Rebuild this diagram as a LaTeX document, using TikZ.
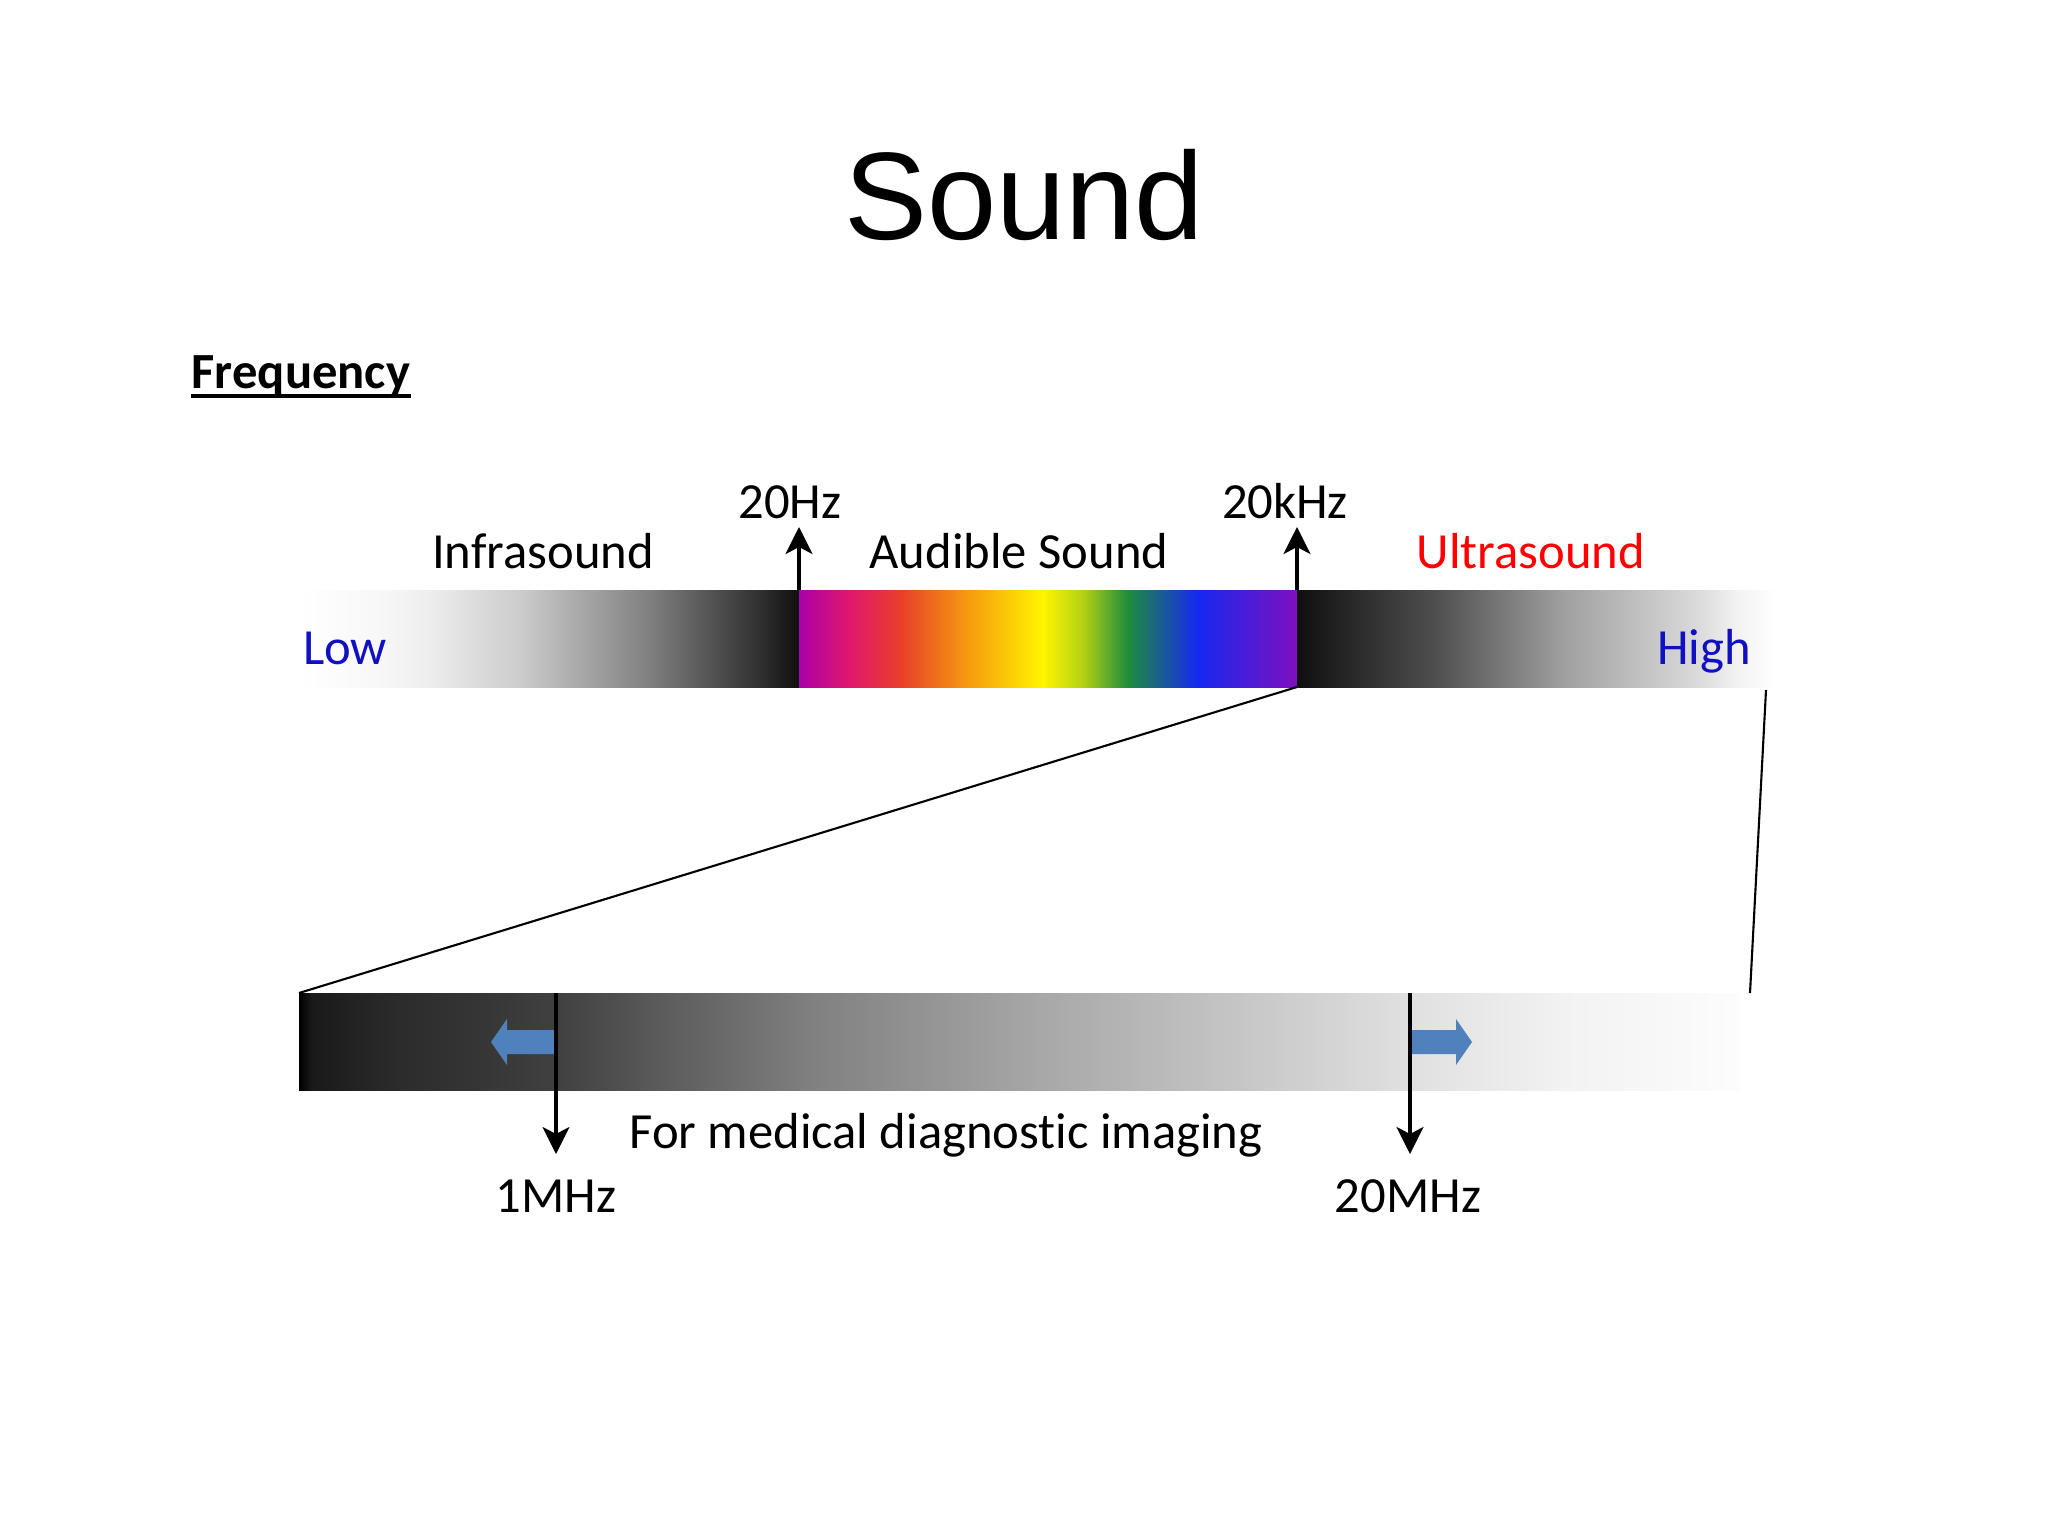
\documentclass[tikz,border=0pt]{standalone}
\usepackage{fontspec}
\setmainfont[Ligatures=NoCommon]{Carlito}
\newfontfamily\titlefont{Liberation Sans}
\usetikzlibrary{arrows.meta}
\definecolor{lowhigh}{RGB}{16,16,192}
\definecolor{ultrared}{RGB}{255,0,0}
\definecolor{markblue}{RGB}{79,129,189}
\pgfdeclarehorizontalshading{spectrum}{100bp}{rgb(0bp)=(0.66,0,0.66); rgb(25bp)=(0.66,0,0.66);
 rgb(30bp)=(0.88,0.09,0.43); rgb(35.25bp)=(0.91,0.25,0.16); rgb(41.8bp)=(0.96,0.60,0.06);
 rgb(49.5bp)=(1,0.96,0); rgb(53.5bp)=(0.70,0.82,0.08); rgb(58bp)=(0.12,0.55,0.24);
 rgb(65bp)=(0.08,0.16,0.94); rgb(75bp)=(0.50,0.06,0.75); rgb(100bp)=(0.50,0.06,0.75)}
\pgfdeclarehorizontalshading{infragray}{100bp}{gray(0bp)=(1); gray(25bp)=(1);
 gray(33bp)=(0.97); gray(38bp)=(0.93); gray(47bp)=(0.80); gray(60bp)=(0.50); gray(71bp)=(0.19);
 gray(75bp)=(0.06); gray(100bp)=(0.06)}
\pgfdeclarehorizontalshading{ultragray}{100bp}{gray(0bp)=(0.06); gray(25bp)=(0.06);
 gray(39.5bp)=(0.31); gray(53bp)=(0.63); gray(67bp)=(0.86); gray(71bp)=(0.95);
 gray(75bp)=(1); gray(100bp)=(1)}
\pgfdeclarehorizontalshading{zoomgray}{100bp}{gray(0bp)=(0); gray(25bp)=(0);
 gray(25.45bp)=(0.10); gray(28.2bp)=(0.165); gray(33.9bp)=(0.25); gray(37.3bp)=(0.35);
 gray(42.7bp)=(0.50); gray(50.9bp)=(0.66); gray(59.9bp)=(0.815); gray(63.6bp)=(0.88);
 gray(69bp)=(0.95); gray(75bp)=(0.99); gray(100bp)=(0.99)}
\tikzset{
 bandtext/.style={font=\fontsize{14.4pt}{17pt}\selectfont, inner sep=0pt, anchor=base},
 headtext/.style={bandtext, font=\fontsize{14.4pt}{17pt}\selectfont\bfseries, anchor=base west},
 titletext/.style={font=\titlefont\fontsize{35.4pt}{40pt}\selectfont, inner sep=0pt, anchor=base},
 tick arrow/.style={-{Stealth[length=0.27cm,width=0.27cm,inset=0.07cm]}, line width=0.9pt},
 zoom line/.style={line width=0.6pt},
 mark arrow/.style={fill=markblue, draw=none},
 }

\begin{document}
\begin{tikzpicture}[x=0.01cm,y=-0.01cm]
    \useasboundingbox (0,0) rectangle (2048,1536);
    % title and heading
    \node[titletext] (title) at (1024,239) {Sound};
    \node[headtext] (freq) at (191,388) {Frequency};
    \draw[line width=0.9pt] ([yshift=-0.08cm]freq.base west) -- ([yshift=-0.08cm]freq.base east);

    % frequency bar
    \shade[shading=infragray] (300,590) rectangle (799,687);
    \shade[shading=spectrum] (799,590) rectangle (1297,687);
    \shade[shading=ultragray] (1297,590) rectangle (1776,687);

    \coordinate (hz20) at (799,590);
    \coordinate (hz20tip) at (799,527);
    \coordinate (khz20) at (1297,590);
    \coordinate (khz20tip) at (1297,527);
    \draw[tick arrow] (hz20) -- (hz20tip);
    \draw[tick arrow] (khz20) -- (khz20tip);

    \node[bandtext] (hz20label) at (790,518) {20Hz};
    \node[bandtext] (khz20label) at (1285,518) {20kHz};
    \node[bandtext] (infra) at (543,568) {Infrasound};
    \node[bandtext] (audible) at (1019,568) {Audible Sound};
    \node[bandtext, text=ultrared] (ultra) at (1531,568) {Ultrasound};
    \node[bandtext, text=lowhigh] (low) at (345,664) {Low};
    \node[bandtext, text=lowhigh] (high) at (1704,664) {High};

    % zoomed ultrasound bar
    \shade[shading=zoomgray] (299,993) rectangle (1740,1090);
    \coordinate (ultraleft) at (1297,687);
    \coordinate (ultraright) at (1766,690);
    \coordinate (zoomleft) at (299,993);
    \coordinate (zoomright) at (1750,993);
    \draw[zoom line] (ultraleft) -- (zoomleft);
    \draw[zoom line] (ultraright) -- (zoomright);

    \fill[mark arrow] (556,1030) -- (507,1030) -- (507,1019) -- (491,1042)
        -- (507,1065) -- (507,1054) -- (556,1054) -- cycle;
    \fill[mark arrow] (1410,1030) -- (1456,1030) -- (1456,1019) -- (1472,1042)
        -- (1456,1065) -- (1456,1054) -- (1410,1054) -- cycle;

    \coordinate (mhz1) at (556,993);
    \coordinate (mhz1tip) at (556,1154);
    \coordinate (mhz20) at (1410,993);
    \coordinate (mhz20tip) at (1410,1154);
    \draw[tick arrow] (mhz1) -- (mhz1tip);
    \draw[tick arrow] (mhz20) -- (mhz20tip);

    \node[bandtext] (medical) at (946,1148) {For medical diagnostic imaging};
    \node[bandtext] (mhz1label) at (556,1212) {1MHz};
    \node[bandtext] (mhz20label) at (1408,1212) {20MHz};
\end{tikzpicture}
\end{document}
